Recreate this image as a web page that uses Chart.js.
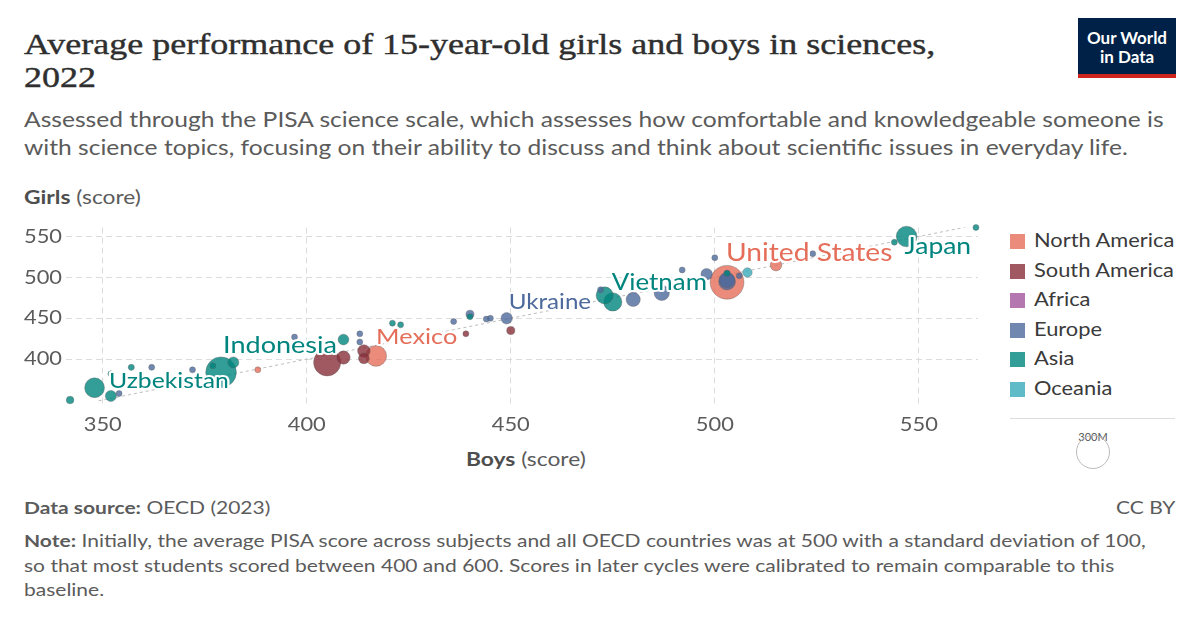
<!DOCTYPE html>
<html lang="en">
<head>
    <meta charset="UTF-8">
    <title>Average performance of 15-year-old girls and boys in sciences, 2022</title>
    <script src="https://cdn.jsdelivr.net/npm/chart.js"></script>
    <style>
        body {
            margin: 0;
            width: 1200px;
            height: 627px;
            background: #fff;
            font-family: 'Lato', sans-serif;
            color: #5b5b5b;
            position: relative;
            overflow: hidden;
        }
        .abs { position: absolute; white-space: nowrap; }
        .wide { transform: scaleX(1.2); transform-origin: left top; }
        #title {
            left: 24px; top: 27px;
            font-family: 'Liberation Serif', serif;
            font-size: 30px; line-height: 33px;
            color: #2f2f2f;
            -webkit-text-stroke: 0.4px #2f2f2f;
        }
        #subtitle {
            left: 24px; top: 105px;
            font-size: 20.5px; line-height: 28px;
        }
        .axis-title { font-size: 19px; color: #5b5b5b; }
        .axis-title b { color: #4e4e4e; }
        #chartBox { left: 0; top: 210px; width: 1000px; height: 270px; }
        .legend-row { left: 1010px; font-size: 19.5px; color: #3a3a3a; }
        .legend-row .txt { display: inline-block; transform: scaleX(1.12); transform-origin: left center; }
        .swatch { display: inline-block; width: 15px; height: 15px; vertical-align: -2px; margin-right: 9px; }
        #logo {
            left: 1078px; top: 18px; width: 98px; height: 60px;
            background: #002147; color: #fff; text-align: center;
            font-weight: bold; font-size: 17px; line-height: 19px;
        }
        #logo .bar { position: absolute; left: 0; bottom: 0; width: 100%; height: 4px; background: #ce261e; }
        .foot { font-size: 17.5px; line-height: 24.5px; }
    </style>
</head>
<body>
    <div id="title" class="abs wide">Average performance of 15-year-old girls and boys in sciences,<br>2022</div>
    <div id="subtitle" class="abs wide">Assessed through the PISA science scale, which assesses how comfortable and knowledgeable someone is<br>with science topics, focusing on their ability to discuss and think about scientific issues in everyday life.</div>
    <div id="logo" class="abs"><div style="padding-top:10px">Our World<br>in Data</div><div class="bar"></div></div>

    <div class="abs axis-title wide" style="left:24px; top:185px;"><b>Girls</b> (score)</div>
    <div class="abs axis-title wide" style="left:466px; top:447px;"><b>Boys</b> (score)</div>

    <div id="chartBox" class="abs"><canvas id="chart" width="1000" height="270"></canvas></div>

    <div id="legend"></div>
    <div class="abs" style="left:1010px; top:418px; width:165px; height:1px; background:#ddd;"></div>
    <div class="abs" style="left:1075px; top:430px; width:36px; text-align:center; font-size:11px; color:#555;">300M</div>
    <div id="sizeCircle" class="abs" style="border:1.5px solid #bbb; border-radius:50%;"></div>

    <div class="abs foot wide" style="left:24px; top:496px;"><b>Data source:</b> OECD (2023)</div>
    <div class="abs foot" style="right:25px; top:496px; transform: scaleX(1.2); transform-origin: right top;">CC BY</div>
    <div class="abs foot wide" style="left:24px; top:529px;"><b>Note:</b> Initially, the average PISA score across subjects and all OECD countries was at 500 with a standard deviation of 100,<br>so that most students scored between 400 and 600. Scores in later cycles were calibrated to remain comparable to this<br>baseline.</div>

    <script>
        // Data (PISA 2022 science)
        const regions = ['North America', 'South America', 'Africa', 'Europe', 'Asia', 'Oceania'];
        const regionColors = ['#E56E5A', '#883039', '#A2559C', '#4C6A9C', '#00847E', '#38AABA'];

        const countries = ['Cambodia', 'Philippines', 'Uzbekistan', 'Kosovo', 'Palestine', 'Jordan', 'Albania', 'North Macedonia',
            'Georgia', 'Indonesia', 'Saudi Arabia', 'Panama', 'Bosnia and Herzegovina', 'Brazil', 'Colombia', 'Malaysia',
            'Montenegro', 'Bulgaria', 'Argentina', 'Peru', 'Mexico', 'Qatar', 'United Arab Emirates', 'Greece', 'Romania',
            'Israel', 'Uruguay', 'Serbia', 'Slovakia', 'Ukraine', 'Chile', 'Iceland', 'Turkey', 'Vietnam', 'Italy', 'France',
            'Lithuania', 'Poland', 'Slovenia', 'United States', 'Germany', 'United Kingdom', 'Belgium', 'Hong Kong',
            'Switzerland', 'Australia', 'Canada', 'Estonia', 'Macao', 'Japan', 'Singapore'];
        const countryRegion = ['Asia', 'Asia', 'Asia', 'Europe', 'Asia', 'Asia', 'Europe', 'Europe',
            'Asia', 'Asia', 'Asia', 'North America', 'Europe', 'South America', 'South America', 'Asia',
            'Europe', 'Europe', 'South America', 'South America', 'North America', 'Asia', 'Asia', 'Europe', 'Europe',
            'Asia', 'South America', 'Europe', 'Europe', 'Europe', 'South America', 'Europe', 'Asia', 'Asia', 'Europe', 'Europe',
            'Europe', 'Europe', 'Europe', 'North America', 'Europe', 'Europe', 'Europe', 'Asia',
            'Europe', 'Oceania', 'North America', 'Europe', 'Asia', 'Asia', 'Asia'];
        const boysScore = [342, 348, 352, 354, 352, 357, 362, 372,
            377, 379, 382, 388, 397, 405, 409, 409,
            413, 413, 414, 414, 417, 421, 423, 436, 440,
            440, 439, 444, 445, 449, 450, 472, 473, 475, 480, 487,
            492, 498, 500, 503, 503, 503, 503, 503,
            506, 508, 515, 524, 544, 547, 564];
        const girlsScore = [350, 365, 355, 358, 382, 390, 390, 387,
            392, 384, 396, 387, 427, 396, 402, 424,
            431, 421, 410, 401, 404, 444, 442, 446, 455,
            452, 431, 449, 450, 450, 435, 485, 478, 470, 473, 481,
            509, 504, 524, 494, 495, 497, 505, 505,
            502, 506, 515, 529, 543, 550, 561];
        const population = [17, 115, 36, 1.8, 5, 11, 2.8, 2,
            3.7, 275, 36, 4.4, 3.2, 215, 52, 34,
            0.6, 6.7, 46, 34, 128, 2.7, 9.4, 10, 19,
            9.5, 3.4, 6.7, 5.4, 38, 19.6, 0.4, 85, 98, 59, 68,
            2.8, 38, 2.1, 335, 84, 67, 11.6, 7.4,
            8.8, 26, 39, 1.3, 0.7, 125, 5.9]; // millions

        const xTicks = [350, 400, 450, 500, 550];
        const yTicks = [400, 450, 500, 550];

        const labelled = ['Uzbekistan', 'Indonesia', 'Mexico', 'Ukraine', 'Vietnam', 'United States', 'Japan'];
        const labelStyle = {
            'Uzbekistan':    { dx: -2, dy: -15, size: 21.5 },
            'Indonesia':     { dx: 2,  dy: -27, size: 23.5 },
            'Mexico':        { dx: 0,  dy: -19, size: 22 },
            'Ukraine':       { dx: 2,  dy: -16, size: 21 },
            'Vietnam':       { dx: -1, dy: -19, size: 22.5 },
            'United States': { dx: -1, dy: -29, size: 24.5 },
            'Japan':         { dx: -2, dy: 10,  size: 23 }
        };
        const STRETCH = 1.15;

        const MAX_R = 16, MAX_POP = 300;
        const radiusFor = pop => Math.max(3, MAX_R * Math.sqrt(pop / MAX_POP));

        function fade(hex, a) {
            const n = parseInt(hex.slice(1), 16);
            return `rgba(${n >> 16}, ${(n >> 8) & 255}, ${n & 255}, ${a})`;
        }
        const colorOf = r => regionColors[regions.indexOf(r)];

        // Legend
        const legend = document.getElementById('legend');
        regions.forEach((r, i) => {
            const row = document.createElement('div');
            row.className = 'abs legend-row';
            row.style.top = (228 + i * 29.6) + 'px';
            row.innerHTML = `<span class="swatch" style="background:${fade(regionColors[i], 0.8)}"></span><span class="txt">${r}</span>`;
            legend.appendChild(row);
        });
        const sc = document.getElementById('sizeCircle');
        const sr = radiusFor(300);
        sc.style.width = sc.style.height = (2 * sr) + 'px';
        sc.style.left = (1093 - sr - 1.5) + 'px';
        sc.style.top = (452 - sr - 1.5) + 'px';

        // Bubble points, largest first so small ones sit on top
        const order = countries.map((_, i) => i).sort((a, b) => population[b] - population[a]);
        const points = order.map(i => ({ x: boysScore[i], y: girlsScore[i], r: radiusFor(population[i]), name: countries[i] }));
        const fills = order.map(i => fade(colorOf(countryRegion[i]), 0.8));

        function stretchedText(ctx, text, x, y, align, stroke) {
            ctx.save();
            ctx.translate(x, y);
            ctx.scale(STRETCH, 1);
            ctx.textAlign = align;
            if (stroke) ctx.strokeText(text, 0, 0);
            ctx.fillText(text, 0, 0);
            ctx.restore();
        }

        const tickPlugin = {
            id: 'tickLabels',
            afterDraw(chart) {
                const { ctx, chartArea, scales } = chart;
                ctx.save();
                ctx.font = '19px Lato';
                ctx.fillStyle = '#5b5b5b';
                ctx.textBaseline = 'middle';
                xTicks.forEach(v => stretchedText(ctx, String(v), scales.x.getPixelForValue(v), chartArea.bottom + 17, 'center'));
                yTicks.forEach(v => stretchedText(ctx, String(v), chartArea.left - 4, scales.y.getPixelForValue(v), 'right'));
                ctx.restore();
            }
        };

        const labelPlugin = {
            id: 'countryLabels',
            afterDatasetsDraw(chart) {
                const { ctx } = chart;
                const meta = chart.getDatasetMeta(0);
                labelled.forEach(name => {
                    const el = meta.data[points.findIndex(p => p.name === name)];
                    const st = labelStyle[name];
                    ctx.save();
                    ctx.font = `${st.size}px Lato`;
                    ctx.textBaseline = 'middle';
                    ctx.lineJoin = 'round';
                    ctx.lineWidth = 4;
                    ctx.strokeStyle = '#fff';
                    ctx.fillStyle = colorOf(countryRegion[countries.indexOf(name)]);
                    stretchedText(ctx, name, el.x + st.dx, el.y + st.dy, 'left', true);
                    ctx.restore();
                });
            }
        };

        new Chart(document.getElementById('chart'), {
            type: 'bubble',
            data: {
                datasets: [{
                    data: points,
                    backgroundColor: fills,
                    borderColor: 'rgba(90, 90, 90, 0.6)',
                    borderWidth: 0.6,
                    clip: false,
                    order: 1
                }, {
                    type: 'line',
                    data: [{ x: 349, y: 349 }, { x: 564.5, y: 564.5 }],
                    borderColor: '#bdbdbd',
                    borderDash: [3, 3],
                    borderWidth: 1,
                    pointRadius: 0,
                    order: 2
                }]
            },
            options: {
                responsive: false,
                animation: false,
                layout: { padding: { top: 17, right: 22, left: 0, bottom: 0 } },
                plugins: { legend: { display: false }, tooltip: { enabled: false } },
                scales: {
                    x: {
                        type: 'linear', min: 341, max: 564.5,
                        afterBuildTicks: s => { s.ticks = xTicks.map(v => ({ value: v })); },
                        afterFit: s => { s.height = 72.6; },
                        grid: { color: '#dcdcdc', drawTicks: false },
                        border: { display: false, dash: [6, 4] },
                        ticks: { display: false }
                    },
                    y: {
                        type: 'linear', min: 341, max: 561,
                        afterBuildTicks: s => { s.ticks = yTicks.map(v => ({ value: v })); },
                        afterFit: s => { s.width = 66; },
                        grid: { color: '#dcdcdc', drawTicks: false },
                        border: { display: false, dash: [6, 4] },
                        ticks: { display: false }
                    }
                }
            },
            plugins: [labelPlugin, tickPlugin]
        });
    </script>
</body>
</html>
